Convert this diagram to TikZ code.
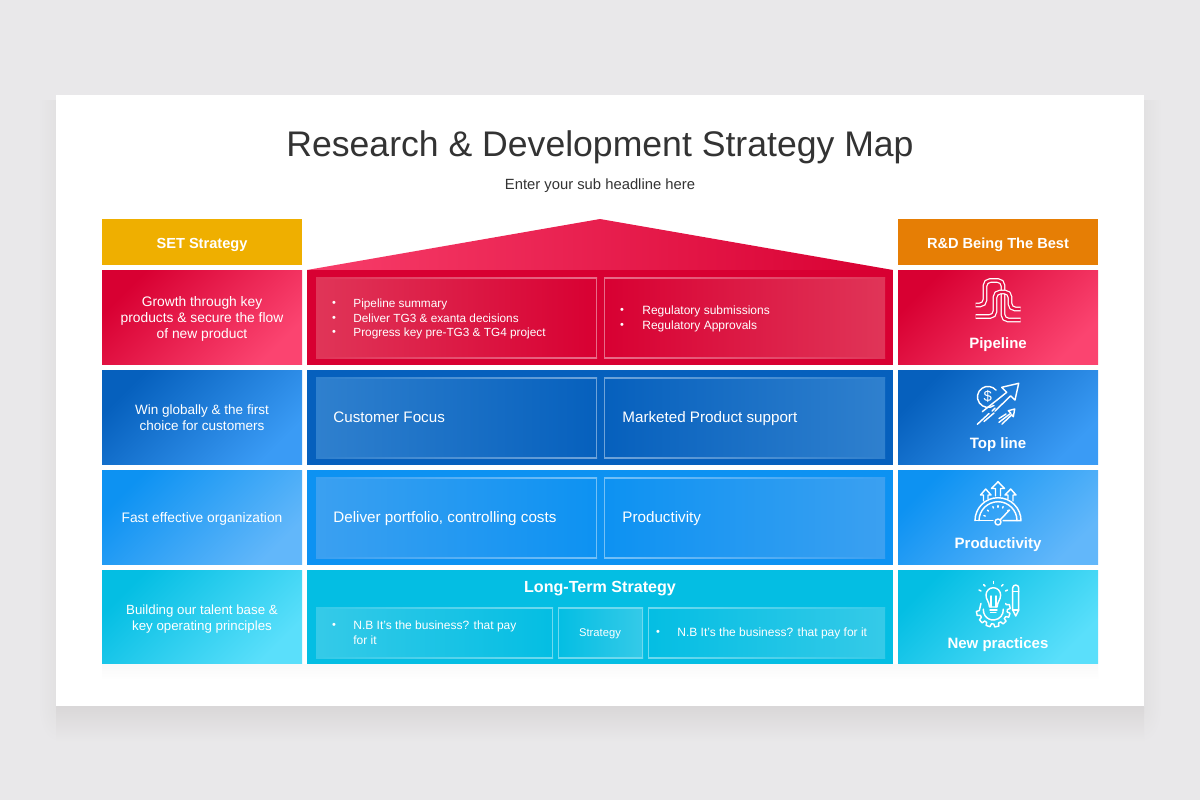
\documentclass[tikz,border=0pt]{standalone}
\usepackage{fontspec}
\setmainfont{Liberation Sans}
\definecolor{pagebg}{HTML}{E9E8EA}
\definecolor{shadowc}{HTML}{D9D7D8}
\definecolor{sidec}{HTML}{E2E1E2}
\definecolor{softc}{HTML}{F9F9F9}
\definecolor{inkc}{HTML}{333333}
\definecolor{redA}{HTML}{D80032}\definecolor{redB}{HTML}{FB4470}\definecolor{redL}{HTML}{E03558}
\definecolor{bluA}{HTML}{0660BD}\definecolor{bluB}{HTML}{3A9BF5}\definecolor{bluL}{HTML}{2F80CE}
\definecolor{midA}{HTML}{0D92F2}\definecolor{midB}{HTML}{62B7FA}\definecolor{midL}{HTML}{3BA0F1}
\definecolor{cynA}{HTML}{04BEE3}\definecolor{cynB}{HTML}{5ADFFB}\definecolor{cynL}{HTML}{35CAE8}
\definecolor{yelA}{HTML}{EFAF00}\definecolor{ornA}{HTML}{E67E05}
\tikzset{
  diag/.style 2 args={top color=#1,bottom color=#2,shading angle=45},
  lbl/.style={text=white,anchor=base,inner sep=0pt,font=\fontsize{6.9}{8}\selectfont},
  lefttxt/.style={lbl,anchor=base west},
  hdr/.style={lbl,font=\bfseries\fontsize{7.3}{9}\selectfont},
  cardlbl/.style={lbl,font=\bfseries\fontsize{7.5}{9}\selectfont},
  listtxt/.style={lefttxt,font=\fontsize{6}{7}\selectfont},
  bigtxt/.style={lefttxt,font=\fontsize{7.6}{9}\selectfont},
  bulletdot/.style={lbl,font=\fontsize{5.5}{6}\selectfont},
  ico/.style={draw=white,line width=.72pt,line cap=round,line join=round},
}
% inner panel: x1 y1 x2 y2 | left colour | right colour | border colour left | border colour right
\newcommand{\panelbox}[8]{
  \path[left color=#5,right color=#6] (#1,#2) rectangle (#3,#4);
  \path[left color=#7,right color=#8] (#1,#2) rectangle (#3,#2+1);
  \path[left color=#7,right color=#8] (#1,#4-1) rectangle (#3,#4);
  \fill[#7] (#1,#2) rectangle (#1+1,#4);
  \fill[#8] (#3-1,#2) rectangle (#3,#4);
}
\newcommand{\bul}[3]{\node[bulletdot] (#1) at (#2,#3) {•};}
\begin{document}
\begin{tikzpicture}[x=.5pt,y=-.5pt]
\useasboundingbox (0,0) rectangle (1200,800);
\fill[pagebg] (0,0) rectangle (1200,800);
% card shadow
\path[inner color=sidec,outer color=pagebg] (38,670) rectangle (74,742);
\path[inner color=sidec,outer color=pagebg] (1126,670) rectangle (1162,742);
\path[top color=shadowc,bottom color=pagebg] (56,706) rectangle (1144,742);
\path[left color=pagebg,right color=sidec] (38,100) rectangle (56,706);
\path[left color=sidec,right color=pagebg] (1144,100) rectangle (1162,706);
\fill[white] (56,95) rectangle (1144,706);
% soft shadow of the block
\path[top color=softc,bottom color=white] (102,664) rectangle (1098,680);

\node[inner sep=0pt,anchor=base,text=inkc,font=\fontsize{17.8}{20}\selectfont] (title) at (600,156) {Research \& Development Strategy Map};
\node[inner sep=0pt,anchor=base,text=inkc,font=\fontsize{7.4}{9}\selectfont] (sub) at (600,189) {Enter your sub headline here};

% headers
\fill[yelA] (102,219) rectangle (302,265);
\fill[ornA] (898,219) rectangle (1098,265);
\node[hdr] (hset) at (202,248) {SET Strategy};
\node[hdr] (hrd) at (998,248) {R\&D Being The Best};

% left and right column
\foreach \xa/\xb in {102/302,898/1098}{
  \path[diag={redA}{redB}] (\xa,270) rectangle (\xb,364.4);
  \path[diag={bluA}{bluB}] (\xa,370) rectangle (\xb,464.4);
  \path[diag={midA}{midB}] (\xa,470) rectangle (\xb,564.4);
  \path[diag={cynA}{cynB}] (\xa,570) rectangle (\xb,663.6);
}

% roof and centre bands
\path[left color=redB!90!redA,middle color=redB!45!redA,right color=redA] (307,270) -- (600,219) -- (893,270) -- cycle;
\fill[redA] (307,270) rectangle (893,364.7);
\fill[bluA] (307,370) rectangle (893,464.7);
\fill[midA] (307,470) rectangle (893,564.7);
\fill[cynA] (307,570) rectangle (893,664);

% inner panels
\panelbox{316}{277}{597}{358}{redL}{redA}{redL}{redA!58!white}
\panelbox{604}{277}{885}{358}{redA}{redL}{redA!58!white}{redL}
\panelbox{316}{377}{597}{458}{bluL}{bluA}{bluL}{bluA!58!white}
\panelbox{604}{377}{885}{458}{bluA}{bluL}{bluA!58!white}{bluL}
\panelbox{316}{477}{597}{558}{midL}{midA}{midL}{midA!58!white}
\panelbox{604}{477}{885}{558}{midA}{midL}{midA!58!white}{midL}
\panelbox{316}{607}{553}{658}{cynL}{cynA}{cynL}{cynA!58!white}
\panelbox{558}{607}{643}{658}{cynA}{cynL}{cynA!58!white}{cynA!58!white}
\panelbox{648}{607}{885}{658}{cynA}{cynL}{cynA!58!white}{cynL}

% left column text
\node[lbl] (g1) at (202,306) {Growth through key};
\node[lbl] (g2) at (202,322) {products \& secure the flow};
\node[lbl] (g3) at (202,338) {of new product};
\node[lbl,font=\fontsize{6.75}{8}\selectfont] (w1) at (202,414) {Win globally \& the first};
\node[lbl,font=\fontsize{6.75}{8}\selectfont] (w2) at (202,430) {choice for customers};
\node[lbl] (f1) at (202,522) {Fast effective organization};
\node[lbl,font=\fontsize{6.65}{8}\selectfont] (b1) at (202,614) {Building our talent base \&};
\node[lbl,font=\fontsize{6.65}{8}\selectfont] (b2) at (202,630) {key operating principles};

% centre text
\bul{d1}{334}{306.5}\bul{d2}{334}{321.5}\bul{d3}{334}{335.5}
\node[listtxt,font=\fontsize{5.9}{7}\selectfont] (p1) at (353,307) {Pipeline summary};
\node[listtxt,font=\fontsize{5.9}{7}\selectfont] (p2) at (353,322) {Deliver TG3 \& exanta decisions};
\node[listtxt,font=\fontsize{5.9}{7}\selectfont] (p3) at (353,336) {Progress key pre-TG3 \& TG4 project};
\bul{d4}{622}{313.5}\bul{d5}{622}{328.5}
\node[listtxt] (r1) at (642,314) {Regulatory submissions};
\node[listtxt] (r2) at (642,329) {Regulatory Approvals};
\node[bigtxt] (c1) at (333,422.5) {Customer Focus};
\node[bigtxt] (c2) at (622,422.5) {Marketed Product support};
\node[bigtxt] (c3) at (333,522.5) {Deliver portfolio, controlling costs};
\node[bigtxt] (c4) at (622,522.5) {Productivity};
\node[lbl,font=\bfseries\fontsize{8.05}{9}\selectfont] (lt) at (600,592.5) {Long-Term Strategy};
\bul{d6}{334}{628.5}
\node[listtxt] (n1) at (353,629) {N.B It's the business? that pay};
\node[listtxt] (n2) at (353,644) {for it};
\node[lbl,font=\fontsize{5.6}{7}\selectfont] (st) at (600,636) {Strategy};
\bul{d7}{658}{635.5}
\node[listtxt] (n3) at (677,636) {N.B It's the business? that pay for it};

% right column labels
\node[cardlbl] (lp) at (998,348) {Pipeline};
\node[cardlbl] (lq) at (998,448) {Top line};
\node[cardlbl] (lr) at (998,548) {Productivity};
\node[cardlbl] (ls) at (998,648) {New practices};

% icon: pipes
\colorlet{pipefill}{redA!70!redB}
\tikzset{pipe/.style={draw=white,line width=.62pt,double=pipefill,double distance=1.2pt,rounded corners=2.6pt}}
\draw[pipe] (975.5,305) -- (985,305) -- (985,280.5) -- (1003,280.5) -- (1003,320) -- (1020.5,320);
\draw[pipe] (975.5,316.5) -- (995,316.5) -- (995,292) -- (1010,292) -- (1010,309) -- (1020.5,309);

% icon: money and arrows
\draw[ico] (994,405.5) arc[start angle=55,end angle=320,radius=10.5];
\node[inner sep=0pt,text=white,font=\fontsize{7.5}{8}\selectfont] (dollar) at (987.7,396.7) {\$};
\draw[ico] (982.3,411.7) -- (1006.7,392.3) -- (1001.7,387.3) -- (1018.7,383.3) -- (1015,400) -- (1010.7,395.8) -- (995,411);
\draw[ico] (977.3,424.3) -- (989,413.5);
\draw[ico] (992,411) -- (995,408);
\draw[ico] (984,421.5) -- (994,413);
\draw[ico] (999,422.3) -- (1010.8,413.2) -- (1008.3,410.7) -- (1014.7,409) -- (1013.3,416.7) -- (1011.8,414.8) -- (1002,424);
\draw[ico] (999,418.5) -- (1006,414);

% icon: gauge
\draw[ico] (975,520.7) arc[start angle=180,end angle=360,radius=23] -- (1003,520.7);
\draw[ico] (975,520.7) -- (993,520.7);
\draw[ico] (979,520.7) arc[start angle=180,end angle=360,radius=19];
\draw[ico] (998,522) circle[radius=3];
\draw[ico] (1000.2,519.8) -- (1009.5,510);
\foreach \a in {200,225,250,270,290,315}{\draw[ico] (998,520.7) ++(\a:13.5) -- ++(\a:1.5);}
\draw[ico] (995.5,496) -- (995.5,488.5) -- (991.5,488.5) -- (998,481.7) -- (1004.5,488.5) -- (1000.5,488.5) -- (1000.5,496);
\draw[ico] (983.5,501) -- (983.5,495) -- (980.5,495) -- (985.7,489) -- (991,495) -- (988,495) -- (988,499);
\draw[ico] (1008,499) -- (1008,495) -- (1005,495) -- (1010.7,489) -- (1016,495) -- (1013,495) -- (1013,501);

% icon: bulb, gear, pencil
\begin{scope}[shift={(993.3,610)}]
\draw[ico] (-28:14) \foreach \a in {-12,18,...,192}{ -- (\a-10:14) -- (\a-7:17) -- (\a+7:17) -- (\a+10:14)} -- (208:14);
\draw[ico] (-5:10) arc[start angle=-5,end angle=185,radius=10];
\end{scope}
\draw[ico] (989.5,607) .. controls (989,601) and (986,600) .. (986,595) arc[start angle=180,end angle=360,radius=7.3] .. controls (1000.6,600) and (997.6,601) .. (997.1,607) -- cycle;
\draw[ico] (990,610) -- (997,610);
\draw[ico] (990.5,612.5) -- (996,612.5);
\draw[ico] (991,607) -- (991,596) (996,607) -- (996,596);
\draw[ico] (993.3,581.5) -- (993.3,583.5);
\draw[ico] (983.5,584.5) -- (985,586);
\draw[ico] (1003,584.5) -- (1001.5,586);
\draw[ico] (979,590) -- (981,591);
\draw[ico] (1007.5,590) -- (1005.5,591);
\draw[ico] (1012.7,588) arc[start angle=180,end angle=360,radius=3] -- (1018.7,610) -- (1015.7,616) -- (1012.7,610) -- cycle;
\draw[ico] (1012.7,591.5) -- (1018.7,591.5);
\draw[ico] (1012.7,610) -- (1018.7,610);
\end{tikzpicture}
\end{document}
